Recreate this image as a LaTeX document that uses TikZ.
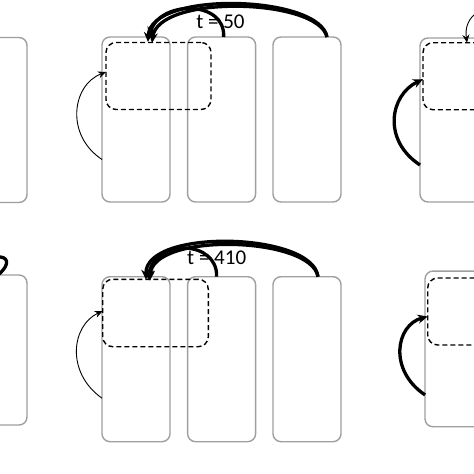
\documentclass[tikz,border=0pt]{standalone}
\usepackage{fontspec}
\setmainfont{Carlito}
\usetikzlibrary{positioning,arrows.meta}

\tikzset{
  slot/.style={draw=gray!75, line width=1.4pt, rounded corners=8pt, inner sep=0pt, outer sep=0pt,
    minimum width=68pt, minimum height=165pt},
  window/.style={draw=black, line width=1.4pt, dash pattern=on 5pt off 3pt, rounded corners=10pt,
    inner sep=0pt, outer sep=0pt, minimum width=105pt, minimum height=67pt},
  thin/.style={line width=0.9pt, -{Stealth[length=8pt,width=7pt]}},
  thick/.style={line width=3.3pt, -{Stealth[length=10pt,width=9pt]}},
  stamp/.style={font=\fontsize{21}{25}\selectfont, inner sep=0pt}
}

\begin{document}
\begin{tikzpicture}[x=1pt,y=-1pt]
                    \useasboundingbox (0,0) rectangle (474,474);
                    \fill[white] (0,0) rectangle (474,474);
                    \clip (0,0) rectangle (474,474);
                    % top row, t = 50
                    \node[slot] (L1) at (-7,120) {};
                    \node[slot] (A1) at (136,119.5) {};
                    \node[slot, right=17.6pt of A1] (B1) {};
                    \node[slot, right=17.4pt of B1] (C1) {};
                    \node[slot, minimum height=164pt] (R1) at (454,120) {};
                    \node[window] (D1) at (158.5,76) {};
                    \node[window, anchor=north west] (RD1) at (423,42.7) {};
                    \node[stamp] (t50) at (220.5,21.3) {t = 50};
                    \coordinate (E1) at (478,12);
                    \draw[thin] ([yshift=-40pt]A1.west) .. controls (65,135) and (72,85) .. ([yshift=4pt]D1.west);
                    \draw[thick] ([xshift=36pt]B1.north west) .. controls (226,0) and (160,0) .. ([xshift=47pt]A1.north west);
                    \draw[thick] ([xshift=54pt]C1.north west) .. controls (320,-5) and (150,-10) .. ([xshift=46pt,yshift=-5pt]A1.north west);
                    \draw[thick] ([xshift=54pt]C1.north west) .. controls (318,-2) and (158,-6) .. ([xshift=50pt,yshift=-6pt]A1.north west);
                    \draw[thick] ([yshift=-45pt]R1.west) .. controls (382,140) and (390,95) .. ([yshift=-3pt]RD1.west);
                    \draw[thin] (E1) .. controls (468,18) and (465,28) .. ([xshift=44pt]RD1.north west);
                    % bottom row, t = 410
                    \node[slot, minimum height=150pt] (L2) at (-7,350) {};
                    \node[slot] (A2) at (136,359.2) {};
                    \node[slot, right=17.6pt of A2] (B2) {};
                    \node[slot, right=17.4pt of B2] (C2) {};
                    \node[slot, minimum height=155.7pt] (R2) at (459,348.9) {};
                    \node[window, minimum width=105.6pt, minimum height=67.4pt] (D2) at (155.5,313) {};
                    \node[window, anchor=north west] (RD2) at (427.7,278) {};
                    \node[stamp] (t410) at (216.7,257.3) {t = 410};
                    \coordinate (E2) at (-3,257);
                    \draw[line width=3.3pt] ([xshift=39pt]L2.north west) .. controls (12,263) and (7,256) .. (E2);
                    \draw[thin] ([yshift=-39pt]A2.west) .. controls (65,372) and (72,325) .. ([yshift=2pt]D2.west);
                    \draw[thick] ([xshift=29pt]B2.north west) .. controls (218,240) and (155,238) .. ([xshift=46pt,yshift=-3pt]A2.north west);
                    \draw[thick] ([xshift=45pt]C2.north west) .. controls (313,232) and (145,228) .. ([xshift=44pt,yshift=-3pt]A2.north west);
                    \draw[thick] ([xshift=45pt]C2.north west) .. controls (311,236) and (152,232) .. ([xshift=48pt,yshift=-4pt]A2.north west);
                    \draw[thick] ([yshift=-46pt]R2.west) .. controls (388,370) and (396,325) .. ([yshift=-5pt]RD2.west);
                \end{tikzpicture}
\end{document}
